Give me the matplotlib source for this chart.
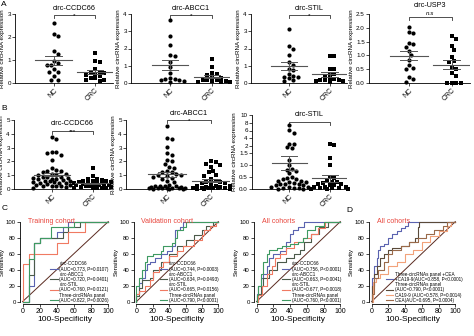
import numpy as np
import matplotlib
matplotlib.use("Agg")
import matplotlib.pyplot as plt
from matplotlib.lines import Line2D
import matplotlib.transforms as mtrans

plt.rcParams['font.family'] = ['Liberation Sans', 'DejaVu Sans']

W, H = 474, 336
fig = plt.figure(figsize=(W / 100, H / 100), dpi=100)

def ax_px(l, t, r, b):
    return fig.add_axes([l / W, 1 - b / H, (r - l) / W, (b - t) / H])

groups = ["NC", "CRC"]

# ---------------- Row A data ----------------
a_titles = ["circ-CCDC66", "circ-ABCC1", "circ-STIL", "circ-USP3"]
a_sig = ["*", "*", "*", "n.s"]
a_ylim = [3, 4, 4, 2.5]
a_nc_ccdc66 = [2.6, 2.12, 2.05, 1.37, 1.25, 0.95, 0.85, 0.78, 0.78, 0.6, 0.5, 0.5, 0.3, 0.15, 0.12]
a_crc_ccdc66 = [1.3, 0.95, 0.9, 0.6, 0.5, 0.45, 0.45, 0.4, 0.35, 0.3, 0.2, 0.2, 0.15, 0.15, 0.1]
a_nc_abcc1 = [3.65, 2.7, 2.2, 1.65, 1.55, 1.2, 0.95, 0.6, 0.3, 0.25, 0.25, 0.2, 0.2, 0.1, 0.05]
a_crc_abcc1 = [1.4, 0.95, 0.6, 0.5, 0.45, 0.35, 0.3, 0.2, 0.15, 0.15, 0.1, 0.1, 0.05, 0.05, 0.05]
a_nc_stil = [3.15, 2.15, 1.95, 1.6, 1.2, 1.05, 0.8, 0.75, 0.55, 0.4, 0.35, 0.35, 0.3, 0.15, 0.1]
a_crc_stil = [1.55, 1.55, 0.8, 0.8, 0.55, 0.5, 0.4, 0.3, 0.25, 0.2, 0.15, 0.15, 0.1, 0.1, 0.05]
a_nc_usp3 = [2.02, 1.85, 1.8, 1.45, 1.4, 1.3, 1.15, 1.0, 0.85, 0.65, 0.55, 0.5, 0.2, 0.15, 0.05]
a_crc_usp3 = [1.7, 1.6, 1.35, 1.2, 0.95, 0.8, 0.75, 0.55, 0.5, 0.35, 0.25, 0.0, 0.0, 0.0, 0.0]

# ---------------- Row B data ----------------
b_titles = ["circ-CCDC66", "circ-ABCC1", "circ-STIL"]
b_sig = ["***", "*", ""]
b_nc_ccdc66 = [3.8, 3.65, 2.7, 2.65, 2.6, 2.5, 2.1, 1.5, 1.4, 1.3, 1.3, 1.2, 1.1, 1.1, 1.0, 1.0,
               0.9, 0.9, 0.85, 0.8, 0.8, 0.75, 0.7, 0.7, 0.65, 0.6, 0.6, 0.55, 0.5, 0.5, 0.45,
               0.4, 0.4, 0.35, 0.3, 0.3, 0.25, 0.25, 0.2, 0.2, 0.15, 0.1]
b_crc_ccdc66 = [1.55, 0.95, 0.75, 0.7, 0.65, 0.6, 0.6, 0.55, 0.5, 0.5, 0.45, 0.45, 0.4, 0.4,
                0.35, 0.35, 0.3, 0.3, 0.3, 0.25, 0.25, 0.2, 0.2, 0.15, 0.15, 0.1, 0.1, 0.1,
                0.05, 0.05]
b_nc_abcc1 = [4.55, 3.7, 3.65, 3.05, 2.6, 2.5, 2.1, 2.0, 1.8, 1.6, 1.55, 1.3, 1.2, 1.2, 1.1,
              1.0, 1.0, 0.95, 0.9, 0.8, 0.7, 0.6, 0.5, 0.3, 0.25, 0.2, 0.2, 0.2, 0.15, 0.15,
              0.1, 0.1, 0.1, 0.05, 0.05, 0.05, 0.05, 0.0, 0.0, 0.0]
b_crc_abcc1 = [2.0, 1.95, 1.8, 1.75, 1.6, 1.3, 1.2, 1.0, 0.95, 0.7, 0.6, 0.5, 0.5, 0.45, 0.4,
               0.3, 0.25, 0.2, 0.2, 0.15, 0.15, 0.1, 0.1, 0.1, 0.05, 0.05, 0.05, 0.0, 0.0, 0.0]
b_nc_stil = [7.3, 6.1, 5.4, 2.6, 2.5, 1.85, 1.9, 1.2, 1.0, 0.85, 0.8, 0.75, 0.65, 0.5, 0.45,
             0.4, 0.4, 0.35, 0.35, 0.3, 0.3, 0.25, 0.2, 0.2, 0.2, 0.15, 0.15, 0.1, 0.1, 0.1,
             0.05, 0.05, 0.05, 0.0, 0.0]
b_crc_stil = [2.5, 2.35, 1.3, 1.0, 0.5, 0.45, 0.35, 0.3, 0.3, 0.25, 0.2, 0.2, 0.15, 0.15, 0.1,
              0.1, 0.1, 0.05, 0.05, 0.05, 0.0, 0.0, 0.0]

# ---------------- ROC data ----------------
roc_titles = ["Training cohort", "Validation cohort", "All cohorts", "All cohorts"]
c1_ccdc66 = ([0, 7, 7, 13, 13, 20, 20, 40, 40, 47, 47, 53, 53, 100],
             [0, 0, 20, 20, 73, 73, 80, 80, 87, 87, 93, 93, 100, 100])
c1_abcc1 = ([0, 7, 7, 13, 13, 20, 20, 47, 47, 53, 53, 67, 67, 100],
            [0, 7, 33, 33, 73, 73, 80, 80, 87, 87, 93, 93, 100, 100])
c1_stil = ([0, 0, 7, 7, 40, 40, 53, 53, 73, 73, 100],
           [0, 47, 47, 60, 60, 73, 73, 87, 87, 100, 100])
c1_panel = ([0, 7, 7, 13, 13, 20, 20, 33, 33, 60, 60, 100],
            [0, 0, 53, 53, 73, 73, 80, 80, 93, 93, 100, 100])
c2_ccdc66 = ([0, 0, 3, 7, 10, 13, 17, 23, 30, 37, 43, 47, 53, 57, 100],
             [0, 10, 23, 30, 40, 47, 50, 55, 60, 63, 70, 90, 93, 100, 100])
c2_abcc1 = ([0, 0, 3, 7, 17, 20, 30, 40, 50, 60, 70, 80, 85, 93, 100],
            [0, 7, 17, 27, 30, 40, 50, 60, 70, 77, 83, 90, 95, 100, 100])
c2_stil = ([0, 0, 3, 10, 17, 20, 27, 33, 40, 50, 57, 70, 80, 83, 90, 97, 100],
           [0, 10, 13, 20, 27, 37, 43, 50, 57, 63, 70, 77, 83, 90, 95, 100, 100])
c2_panel = ([0, 0, 3, 7, 10, 13, 20, 30, 33, 43, 47, 50, 57, 60, 100],
            [0, 20, 30, 40, 50, 57, 60, 63, 70, 73, 80, 90, 93, 100, 100])
c3_ccdc66 = ([0, 0, 2, 5, 8, 12, 15, 20, 28, 35, 40, 43, 50, 57, 100],
             [0, 10, 20, 30, 35, 45, 55, 60, 63, 75, 85, 90, 93, 100, 100])
c3_abcc1 = ([0, 2, 5, 8, 15, 25, 35, 45, 52, 57, 65, 75, 85, 100],
            [0, 10, 20, 30, 40, 50, 55, 60, 65, 75, 85, 93, 100, 100])
c3_stil = ([0, 2, 7, 12, 18, 22, 28, 35, 45, 55, 65, 73, 82, 100],
           [0, 8, 20, 35, 45, 55, 60, 67, 75, 80, 85, 92, 100, 100])
c3_panel = ([0, 0, 2, 5, 8, 12, 15, 25, 30, 40, 50, 55, 60, 70, 80, 100],
            [0, 8, 20, 35, 50, 60, 65, 67, 70, 72, 75, 80, 90, 95, 100, 100])
d_combo = ([0, 0, 3, 6, 8, 10, 15, 20, 25, 30, 35, 40, 43, 100],
           [0, 30, 45, 55, 65, 70, 72, 80, 85, 88, 92, 95, 100, 100])
d_panel = ([0, 0, 3, 6, 10, 15, 20, 25, 35, 45, 52, 55, 57, 100],
           [0, 20, 35, 45, 55, 60, 65, 67, 70, 75, 80, 93, 100, 100])
d_ca199 = ([0, 2, 5, 10, 20, 30, 40, 50, 60, 70, 80, 90, 95, 100],
           [0, 25, 30, 35, 45, 50, 60, 65, 75, 82, 88, 95, 100, 100])
d_cea = ([0, 0, 3, 8, 15, 20, 25, 35, 45, 55, 65, 75, 85, 90, 100],
         [0, 10, 30, 40, 50, 60, 65, 70, 75, 80, 85, 90, 95, 100, 100])

c_names = ["circ-CCDC66", "circ-ABCC1", "circ-STIL", "Three-circRNAs panel"]
c1_auc = ["(AUC=0.773, P=0.0107)", "(AUC=0.720, P=0.0401)", "(AUC=0.760, P=0.0121)", "(AUC=0.822, P=0.0026)"]
c2_auc = ["(AUC=0.744, P=0.0003)", "(AUC=0.634, P=0.0493)", "(AUC=0.665, P=0.0156)", "(AUC=0.790, P<0.0001)"]
c3_auc = ["(AUC=0.756, P<0.0001)", "(AUC=0.663, P=0.0041)", "(AUC=0.677, P=0.0018)", "(AUC=0.760, P<0.0001)"]
d_names = ["Three-circRNAs panel +CEA", "Three-circRNAs panel", "", ""]
d_auc = ["+CA19-9(AUC=0.858, P<0.0001)", "(AUC=0.790, P<0.0001)",
         "CA19-9 (AUC=0.578, P=0.0014)", "CEA(AUC=0.695, P=0.0004)"]

c_colors = ["#5b63b0", "#4b5a4a", "#f07a62", "#3f9a62"]
d_colors = ["#5b63b0", "#5a4a3a", "#f2a27a", "#9a6a4a"]
red_txt = "#e8453c"
diag_col = "#5a2a20"

FS_TICK = 4.5

def style_axis(ax):
    for s in ["top", "right"]:
        ax.spines[s].set_visible(False)
    for s in ["left", "bottom"]:
        ax.spines[s].set_linewidth(0.6)
    ax.tick_params(length=2, width=0.5, pad=1, labelsize=FS_TICK)


def swarm(ax, xc, vals, d=4.2, maxoff=0.46):
    """deterministic beeswarm placement in display space"""
    vals = np.asarray(vals, float)
    order = np.argsort(-vals)
    ypx = ax.transData.transform(np.column_stack([np.full(len(vals), xc), vals]))[:, 1]
    x0 = ax.transData.transform([[xc, 0]])[0, 0]
    x1 = ax.transData.transform([[xc + 1, 0]])[0, 0]
    ppu = x1 - x0
    lim = maxoff * ppu
    step = d * 0.55
    cand = [0.0]
    k = 1
    while k * step <= lim:
        cand += [k * step, -k * step]
        k += 1
    placed = []
    offs = np.zeros(len(vals))
    for i in order:
        best, bestd = 0.0, -1
        chosen = None
        for c in cand:
            md = 1e9
            for (px, py) in placed:
                dd = (px - c) ** 2 + (py - ypx[i]) ** 2
                if dd < md:
                    md = dd
            if md >= d * d:
                chosen = c
                break
            if md > bestd:
                bestd, best = md, c
        if chosen is None:
            chosen = best
        placed.append((chosen, ypx[i]))
        offs[i] = chosen
    return xc + offs / ppu


def dot_panel(ax, nc, crc, ylim, yticks, title, sig, bracket_y, title_y, yticklabels=None):
    style_axis(ax)
    ax.set_xlim(-0.93, 1.43)
    ax.set_ylim(ylim)
    ax.set_yticks(yticks)
    if yticklabels is not None:
        ax.set_yticklabels(yticklabels)
    ax.set_xticks([0, 1])
    ax.set_xticklabels(groups, rotation=45, ha="right", rotation_mode="anchor", fontsize=5)
    ax.set_ylabel("Relative circRNA expression", fontsize=4.5, labelpad=1.5)
    for xc, vals, mk in [(0, nc, "o"), (1, crc, "s")]:
        xs = swarm(ax, xc, vals)
        ax.plot(xs, vals, mk, color="black", ms=3.0, mew=0, clip_on=False, zorder=3)
        m = np.mean(vals)
        se = np.std(vals, ddof=1) / np.sqrt(len(vals))
        ax.plot([xc - 0.44, xc + 0.44], [m, m], color="#555555", lw=0.8, zorder=4)
        ax.plot([xc - 0.2, xc + 0.2], [m + se, m + se], color="#555555", lw=0.7, zorder=4)
        ax.plot([xc - 0.2, xc + 0.2], [m - se, m - se], color="#555555", lw=0.7, zorder=4)
        ax.plot([xc, xc], [m - se, m + se], color="#555555", lw=0.7, zorder=4)
    tr = mtrans.blended_transform_factory(ax.transData, ax.transAxes)
    ax.plot([0, 0, 1, 1], [bracket_y - 0.04, bracket_y, bracket_y, bracket_y - 0.04],
            color="#333333", lw=0.6, transform=tr, clip_on=False)
    if sig:
        style = "italic" if sig == "n.s" else "normal"
        off = 0.005 if sig == "n.s" else -0.04
        ax.text(0.5, bracket_y + off, sig, transform=tr, ha="center", va="bottom",
                fontsize=4.5, style=style)
    ax.text(0.5, title_y, title, transform=tr, ha="center", va="bottom", fontsize=5.2)


# -------- Row A --------
a_boxes = [(15, 14, 113, 83), (131, 14, 230, 83), (251, 14, 347, 83), (369, 14, 470, 83)]
a_data = [(a_nc_ccdc66, a_crc_ccdc66), (a_nc_abcc1, a_crc_abcc1),
          (a_nc_stil, a_crc_stil), (a_nc_usp3, a_crc_usp3)]
for i, box in enumerate(a_boxes):
    ax = ax_px(*box)
    yl = a_ylim[i]
    if yl == 2.5:
        ticks = [0, 0.5, 1.0, 1.5, 2.0, 2.5]
        labels = ["0.0", "0.5", "1.0", "1.5", "2.0", "2.5"]
        by, ty = 0.96, 1.07
    else:
        ticks = list(range(0, yl + 1))
        labels = None
        by, ty = 0.985, 1.03
    dot_panel(ax, a_data[i][0], a_data[i][1], (0, yl), ticks, a_titles[i], a_sig[i],
              by, ty, labels)

# -------- Row B --------
ax = ax_px(14, 120, 110, 189)
dot_panel(ax, b_nc_ccdc66, b_crc_ccdc66, (0, 5), [0, 1, 2, 3, 4, 5], b_titles[0], b_sig[0], 0.84, 0.9)
ax = ax_px(126, 120, 230, 189)
dot_panel(ax, b_nc_abcc1, b_crc_abcc1, (0, 5), [0, 1, 2, 3, 4, 5], b_titles[1], b_sig[1], 1.0, 1.04)

def fwd(y):
    y = np.asarray(y, float)
    return np.where(y < 1.5, y * 24, np.where(y < 2, 36 + (y - 1.5) * 14, 43 + (y - 2) * 3.875))

def inv(z):
    z = np.asarray(z, float)
    return np.where(z < 36, z / 24, np.where(z < 43, 1.5 + (z - 36) / 14, 2 + (z - 43) / 3.875))

ax = ax_px(252, 115, 347, 189)
ax.set_yscale("function", functions=(fwd, inv))
dot_panel(ax, b_nc_stil, b_crc_stil, (0, 10), [0, 0.5, 1.0, 1.5, 2, 4, 6, 8, 10], b_titles[2], b_sig[2],
          0.9, 0.96, ["0.0", "0.5", "1.0", "1.5", "2", "4", "6", "8", "10"])

# -------- Row C/D ROC --------
c_boxes = [(20, 220, 110, 304), (134, 220, 220, 304), (254, 220, 342, 304), (369, 220, 457, 304)]
roc_sets = [
    ([c1_ccdc66, c1_abcc1, c1_stil, c1_panel], c_names, c1_auc, c_colors),
    ([c2_ccdc66, c2_abcc1, c2_stil, c2_panel], c_names, c2_auc, c_colors),
    ([c3_ccdc66, c3_abcc1, c3_stil, c3_panel], c_names, c3_auc, c_colors),
    ([d_combo, d_panel, d_ca199, d_cea], d_names, d_auc, d_colors),
]
for i, box in enumerate(c_boxes):
    ax = ax_px(*box)
    style_axis(ax)
    ax.set_xlim(-3, 102)
    ax.set_ylim(-3, 102)
    ax.spines["left"].set_bounds(0, 100)
    ax.spines["bottom"].set_bounds(0, 100)
    ax.set_xticks(range(0, 101, 20))
    ax.set_yticks(range(0, 101, 20))
    ax.tick_params(axis="x", labelsize=5)
    ax.tick_params(axis="y", labelsize=4.3)
    ax.set_xlabel("100-Specificity", fontsize=6, labelpad=0.5)
    ax.set_ylabel("Sensitivity", fontsize=4.5, labelpad=0.5)
    ax.plot([0, 100], [0, 100], color=diag_col, lw=0.7, zorder=1)
    curves, names, aucs, cols = roc_sets[i]
    handles, labels = [], []
    for (xs, ys), nm, au, col in zip(curves, names, aucs, cols):
        ax.plot(xs, ys, drawstyle="steps-post", color=col, lw=0.8, zorder=2)
        if nm:
            handles.append(Line2D([], [], color="none"))
            labels.append(nm)
        handles.append(Line2D([], [], color=col, lw=0.8))
        labels.append(au)
    ax.text(6, 100, roc_titles[i], color=red_txt, fontsize=5, va="center", ha="left")
    ax.legend(handles, labels, loc="lower right", bbox_to_anchor=(1.1 if i == 3 else 1.02, -0.02),
              fontsize=3.3, frameon=False, handlelength=1.6, handletextpad=0.4,
              labelspacing=0.05, borderpad=0.1)

# panel letters
for lab, x, y in [("A", 1, 5), ("B", 1, 108), ("C", 2, 209), ("D", 346, 211)]:
    fig.text(x / W, 1 - y / H, lab, fontsize=6, ha="left", va="center")

fig.savefig("out.png", dpi=100)
